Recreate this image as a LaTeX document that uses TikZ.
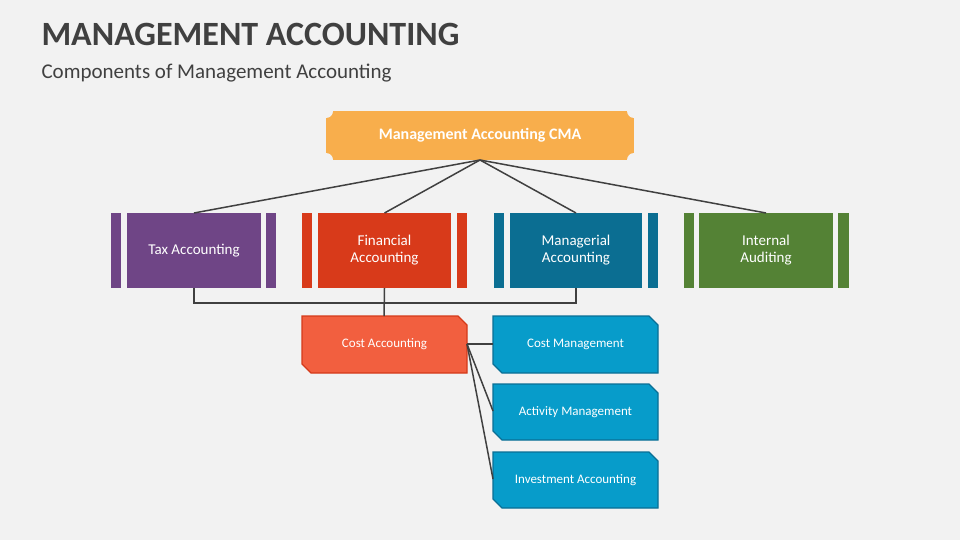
\documentclass[tikz,border=0pt]{standalone}
\usepackage{fontspec}
\setmainfont{Carlito}
\definecolor{bg}{HTML}{F2F2F2}
\definecolor{orng}{HTML}{F8AE4C}
\definecolor{purp}{HTML}{6F4586}
\definecolor{redd}{HTML}{D83A1A}
\definecolor{teal}{HTML}{0B6E92}
\definecolor{grn}{HTML}{548235}
\definecolor{cost}{HTML}{F25F3F}
\definecolor{costb}{HTML}{D43A1A}
\definecolor{blu}{HTML}{079CCA}
\definecolor{blub}{HTML}{0A6F95}
\definecolor{ln}{HTML}{404040}
\tikzset{
  conn/.style={draw=ln,line width=1.5pt},
  lbl/.style={text=white,font=\fontsize{15}{17}\selectfont,align=center},
  slbl/.style={text=white,font=\fontsize{13}{15}\selectfont},
}
\newcommand{\chbox}[6]{% name x1 y1 x2 y2 fill/border text
  \fill[#6,line width=1.2pt] (#2,#3) -- ({#4-9},#3) -- (#4,{#3+9}) -- (#4,#5) -- ({#2+9},#5) -- (#2,{#5-9}) -- cycle;
  \coordinate (#1) at ({(#2+#4)/2},{(#3+#5)/2});
}
\begin{document}
\begin{tikzpicture}[x=1pt,y=-1pt]
\fill[bg] (0,0) rectangle (960,540);
\useasboundingbox (0,0) rectangle (960,540);
\node[anchor=west,text=ln,font=\fontsize{34}{36}\selectfont\bfseries] (title) at (38,34) {MANAGEMENT ACCOUNTING};
\node[anchor=west,text=ln,font=\fontsize{21}{24}\selectfont] (sub) at (38,73) {Components of Management Accounting};
% top box
\fill[orng] (326,111) rectangle (634,160);
\foreach \p in {(326,111),(634,111),(326,160),(634,160)} \fill[bg] \p circle (7);
\node[lbl,font=\fontsize{16}{18}\selectfont\bfseries] (cma) at (480,135) {Management Accounting CMA};
\coordinate (ctop) at (480,160);
% row boxes
\foreach \n/\a/\b/\c/\d/\e/\f/\col/\t in {
  tax/111/121/127/261/266/276/purp/Tax Accounting,
  fin/302/312/318/451/457/467/redd/Financial\\Accounting,
  man/494/504/510/642/648/658/teal/Managerial\\Accounting,
  int/684/694/699/833/838/849/grn/Internal\\Auditing}{
  \fill[\col] (\a,213) rectangle (\b,288);
  \fill[\col] (\c,213) rectangle (\d,288);
  \fill[\col] (\e,213) rectangle (\f,288);
  \node[lbl] (\n) at ({(\c+\d)/2},250.5) {\t};
  \coordinate (\n T) at ({(\c+\d)/2},213);
  \coordinate (\n B) at ({(\c+\d)/2},288);
}
\foreach \n in {tax,fin,man,int} \draw[conn] (ctop) -- (\n T);
\coordinate (jl) at (194,303);
\coordinate (jr) at (576,303);
\draw[conn] (taxB) -- (jl) -- (jr) -- (manB);
% cost accounting
\chbox{ca}{302}{316}{467}{373}{fill=cost,draw=costb}{}
\node[slbl] (cat) at (ca) {Cost Accounting};
\coordinate (caR) at (467,344);
\draw[conn] (finB) -- (384,316);
\chbox{cm}{493}{316}{658}{373}{fill=blu,draw=blub}{}
\node[slbl] (cmt) at (cm) {Cost Management};
\chbox{am}{493}{384}{658}{440}{fill=blu,draw=blub}{}
\node[slbl] (amt) at (am) {Activity Management};
\chbox{ia}{493}{452}{658}{508}{fill=blu,draw=blub}{}
\node[slbl] (iat) at (ia) {Investment Accounting};
\draw[conn] (caR) -- (493,344);
\draw[conn] (caR) -- (493,411);
\draw[conn] (caR) -- (493,479);
\end{tikzpicture}
\end{document}
